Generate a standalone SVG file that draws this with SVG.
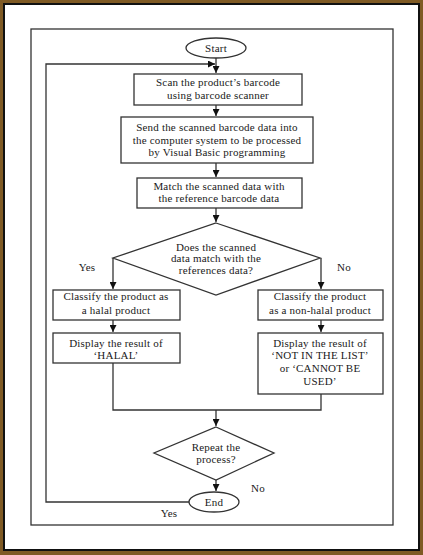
<svg xmlns="http://www.w3.org/2000/svg" width="423" height="555" viewBox="0 0 423 555">
<style>
.s{fill:#fff;stroke:#333;stroke-width:1.3}
.c{fill:none;stroke:#333;stroke-width:1.3}
text{font-family:"Liberation Serif","Times New Roman",serif;font-size:11px;letter-spacing:0.2px;fill:#1a1a1a;text-anchor:middle;dominant-baseline:central}
</style>
<defs>
<marker id="a" viewBox="0 0 8 8" refX="8" refY="4" markerWidth="7" markerHeight="7" markerUnits="userSpaceOnUse" orient="auto"><path d="M0,0L8,4L0,8z" fill="#111"/></marker>
</defs>
<rect x="0" y="0" width="423" height="555" fill="#7f5a24"/>
<rect x="4" y="4" width="415" height="546" fill="#fff" stroke="#111" stroke-width="2"/>
<rect x="31" y="29" width="362" height="496" fill="none" stroke="#333" stroke-width="1.3"/>
<g id="connectors">
<path class="c" d="M216,58V73" marker-end="url(#a)"/>
<path class="c" d="M216,105V116" marker-end="url(#a)"/>
<path class="c" d="M216,163V177" marker-end="url(#a)"/>
<path class="c" d="M216,208V222" marker-end="url(#a)"/>
<path class="c" d="M113,258V289" marker-end="url(#a)"/>
<path class="c" d="M321,258V289" marker-end="url(#a)"/>
<path class="c" d="M113,320V332" marker-end="url(#a)"/>
<path class="c" d="M321,320V332" marker-end="url(#a)"/>
<path class="c" d="M113,363V410H321V394"/>
<path class="c" d="M216,410V426" marker-end="url(#a)"/>
<path class="c" d="M216,480V491" marker-end="url(#a)"/>
<path class="c" d="M190,502H46V64H215" marker-end="url(#a)"/>
<text x="87" y="267">Yes</text>
<text x="344" y="267">No</text>
<text x="258" y="488">No</text>
<text x="169" y="513">Yes</text>
</g>
<g id="start"><ellipse class="s" cx="216" cy="48" rx="30" ry="10"/><text x="216" y="48">Start</text></g>
<g id="scan"><rect class="s" x="134" y="74" width="168" height="31"/><text x="218" y="82">Scan the product’s barcode</text><text x="218" y="95">using barcode scanner</text></g>
<g id="send"><rect class="s" x="121" y="117" width="192" height="46"/><text x="217" y="127">Send the scanned barcode data into</text><text x="217" y="139.5">the computer system to be processed</text><text x="217" y="152">by Visual Basic programming</text></g>
<g id="match"><rect class="s" x="137" y="178" width="165" height="30"/><text x="219" y="186">Match the scanned data with</text><text x="219" y="198">the reference barcode data</text></g>
<g id="decision1"><path class="s" d="M216,223L320,258L216,295L113,258Z"/><text x="216" y="247">Does the scanned</text><text x="216" y="258">data match with the</text><text x="216" y="270">references data?</text></g>
<g id="halal"><rect class="s" x="53" y="290" width="127" height="30"/><text x="116" y="296">Classify the product as</text><text x="116" y="310">a halal product</text></g>
<g id="nonhalal"><rect class="s" x="258" y="290" width="125" height="30"/><text x="320" y="296">Classify the product</text><text x="320" y="310">as a non-halal product</text></g>
<g id="showhalal"><rect class="s" x="53" y="333" width="127" height="30"/><text x="116" y="343">Display the result of</text><text x="116" y="355">‘HALAL’</text></g>
<g id="shownot"><rect class="s" x="258" y="333" width="125" height="61"/><text x="320" y="343">Display the result of</text><text x="320" y="355">‘NOT IN THE LIST’</text><text x="320" y="368">or ‘CANNOT BE</text><text x="320" y="381">USED’</text></g>
<g id="decision2"><path class="s" d="M216,427L274,453L216,480L154,453Z"/><text x="216" y="447">Repeat the</text><text x="216" y="459">process?</text></g>
<g id="end"><ellipse class="s" cx="214" cy="502" rx="25" ry="10"/><text x="214" y="502">End</text></g>
</svg>
